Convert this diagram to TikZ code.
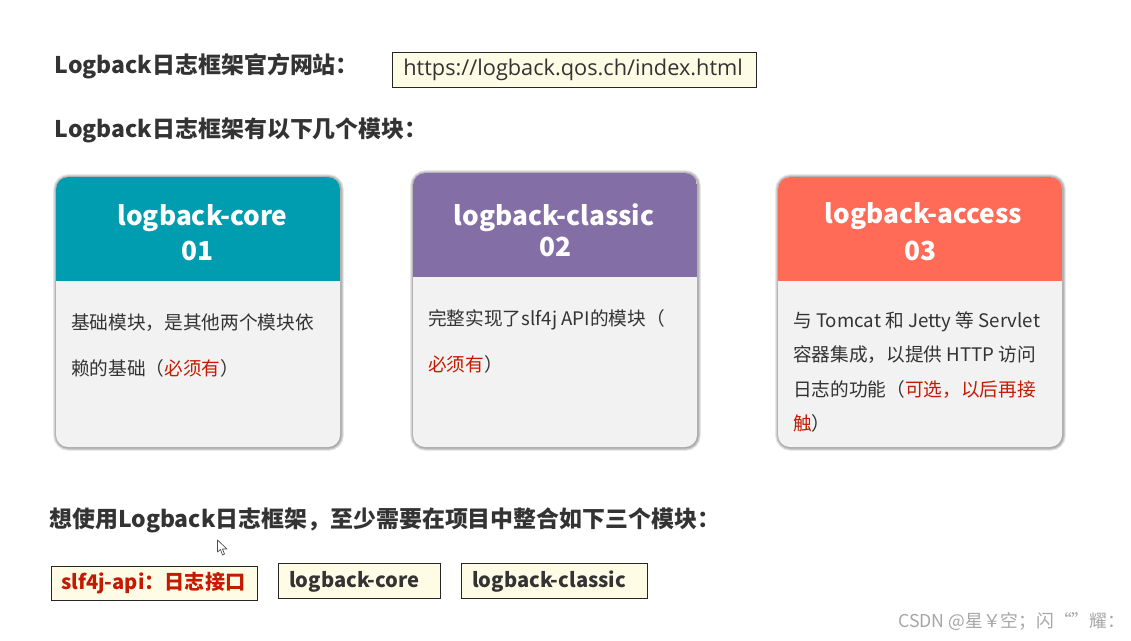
\documentclass[tikz,border=0pt]{standalone}
\usepackage{fontspec}
\setmainfont{Noto Sans CJK SC}
\newfontfamily\latinfont{Open Sans}
\definecolor{txt}{HTML}{333333}
\definecolor{redt}{HTML}{C41A00}
\definecolor{note}{HTML}{FFFCE6}
\definecolor{cardbg}{HTML}{F2F2F2}
\definecolor{teal}{HTML}{009CB0}
\definecolor{purp}{HTML}{836FA6}
\definecolor{coral}{HTML}{FF6B57}
\newcommand{\fs}[1]{\fontsize{#1}{#1}\selectfont}
\tikzset{
  x=0.75pt,y=-0.75pt,
  head/.style={font=\fs{17.2}\bfseries,text=txt,anchor=base west,inner sep=0pt},
  body/.style={font=\fs{14.0},text=txt,anchor=base west,inner sep=0pt},
  title/.style={font=\fs{19.7}\bfseries,text=white,anchor=base,inner sep=0pt},
  notebox/.style={draw=black!85,line width=0.7pt,fill=note,anchor=north west,inner sep=0pt},
  boxtext/.style={font=\fs{15.1}\bfseries,text=txt,anchor=base west,inner sep=0pt},
}
\newcommand{\card}[6]{% x1,y1,x2,y2,ymid,colour
  \foreach \w in {5,4,3,2,1}{
    \draw[black,opacity=0.08,line width=\w pt,rounded corners=9pt] (#1+0.5,#2+0.5) rectangle (#3+0.5,#4+0.5);
  }
  \fill[cardbg,rounded corners=9pt] (#1,#2) rectangle (#3,#4);
  \begin{scope}
    \clip[rounded corners=9pt] (#1,#2) rectangle (#3,#4);
    \fill[#6] (#1,#2) rectangle (#3,#5);
  \end{scope}
}
\begin{document}
\begin{tikzpicture}
\useasboundingbox (0,0) rectangle (1131,640);
\fill[white] (0,0) rectangle (1131,640);

\node[head] (t1) at (54.5,73) {Logback日志框架官方网站：};
\draw[notebox] (392,52) rectangle (756,87);
\node[font=\latinfont\fs{16.3},text=txt,anchor=base west,inner sep=0pt] (url) at (403,75) {https://logback.qos.ch/index.html};
\node[head] (t2) at (54.5,137) {Logback日志框架有以下几个模块：};

% card 1
\card{56}{177}{340}{447}{281}{teal}
\node[title] (c1a) at (202.5,225) {logback-core};
\node[title] (c1b) at (197,260) {01};
\node[body] (c1l1) at (71,329) {基础模块，是其他两个模块依};
\node[body] (c1l2) at (71,375) {赖的基础（\textcolor{redt}{必须有}）};

% card 2
\card{413}{173}{697}{447}{277}{purp}
\node[title] (c2a) at (554,225) {logback-classic};
\node[title] (c2b) at (555,256) {02};
\node[body] (c2l1) at (428,325) {完整实现了slf4j API的模块（};
\node[body] (c2l2) at (428,371) {\textcolor{redt}{必须有}）};

% card 3
\card{778}{177}{1062}{447}{281}{coral}
\node[title] (c3a) at (923.5,223) {logback-access};
\node[title] (c3b) at (920,260) {03};
\node[body] (c3l1) at (793,327) {与 Tomcat 和 Jetty 等 Servlet};
\node[body] (c3l2) at (793,361) {容器集成，以提供 HTTP 访问};
\node[body] (c3l3) at (793,396) {日志的功能（\textcolor{redt}{可选，以后再接}};
\node[body] (c3l4) at (793,430) {\textcolor{redt}{触}）};

\node[head] (t3) at (49,527) {想使用Logback日志框架，至少需要在项目中整合如下三个模块：};

% cursor
\draw[black!70,fill=white,line width=0.5pt,line join=round]
  (217.5,540) -- (217.5,552) -- (220.5,549.5) -- (222.5,555) -- (224.5,554) -- (222.5,549) -- (227,549) -- cycle;

\draw[notebox] (51,566) rectangle (257,600);
\node[boxtext,text=redt] (b1) at (61,589) {slf4j-api：日志接口};
\draw[notebox] (278,563) rectangle (440,598);
\node[boxtext] (b2) at (289,587) {logback-core};
\draw[notebox] (461,563) rectangle (647,598);
\node[boxtext] (b3) at (472,587) {logback-classic};

\node[font=\fs{13.3},text=black!35,anchor=base west,inner sep=0pt] (wm) at (898,627) {CSDN @星￥空；闪“”耀：};
\end{tikzpicture}
\end{document}
